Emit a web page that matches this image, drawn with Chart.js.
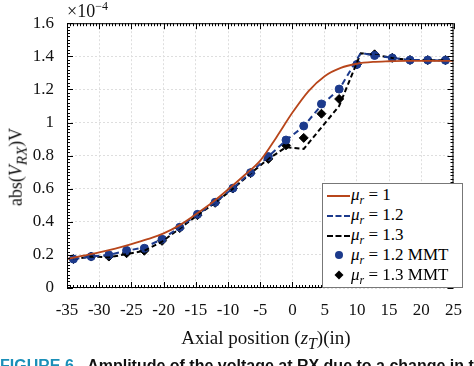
<!DOCTYPE html>
<html>
<head>
<meta charset="utf-8">
<script src="https://cdn.jsdelivr.net/npm/chart.js@4/dist/chart.umd.min.js"></script>
<style>
  body { margin: 0; background: #fff; }
  #wrap { position: relative; width: 474px; height: 366px; overflow: hidden; font-family: "Liberation Serif", "DejaVu Serif", serif; }
  #chart { position: absolute; left: 0; top: 0; }
  .lbl { position: absolute; color: #111; white-space: nowrap; }
  #ytitle { left: 18px; top: 167px; font-size: 18px; transform: translate(-50%, -50%) rotate(-90deg); }
  #xtitle { left: 266px; top: 340px; font-size: 19px; transform: translate(-50%, -50%); }
  #scale { left: 67px; top: -1px; font-size: 18px; }
  #scale sup { font-size: 12px; }
  #legend { position: absolute; left: 322px; top: 183px; width: 139px; height: 103px; border: 1px solid #777; background: #fff; font-size: 17px; }
  #legend .row { position: absolute; left: 0; height: 20px; width: 139px; }
  #legend .sample { position: absolute; left: 4px; top: 10px; width: 23px; height: 0; }
  #legend .txt { position: absolute; left: 28px; top: 0; line-height: 20px; }
  #legend .mk { position: absolute; left: 12px; top: 6px; width: 8px; height: 8px; }
  #caption { left: 0; top: 357px; font-size: 16px; font-family: "Liberation Sans", sans-serif; font-weight: bold; }
  #caption span { color: #1a8fb8; }
  i sub { font-size: 70%; }
</style>
</head>
<body>
<div id="wrap">
  <canvas id="chart" width="474" height="366"></canvas>
  <div class="lbl" id="scale">×10<sup>−4</sup></div>
  <div class="lbl" id="ytitle">abs(<i>V</i><sub><i>RX</i></sub>)V</div>
  <div class="lbl" id="xtitle">Axial position (<i>z</i><sub><i>T</i></sub>)(in)</div>
  <div id="legend">
    <div class="row" style="top:1px"><div class="sample" style="border-top:2px solid #b8461b"></div><div class="txt"><i>μ<sub>r</sub></i> = 1</div></div>
    <div class="row" style="top:21px"><div class="sample" style="border-top:2px dashed #1c3a8c"></div><div class="txt"><i>μ<sub>r</sub></i> = 1.2</div></div>
    <div class="row" style="top:41px"><div class="sample" style="border-top:2px dashed #000"></div><div class="txt"><i>μ<sub>r</sub></i> = 1.3</div></div>
    <div class="row" style="top:61px"><div class="mk" style="border-radius:50%;background:#1c3a8c"></div><div class="txt"><i>μ<sub>r</sub></i> = 1.2 MMT</div></div>
    <div class="row" style="top:81px"><div class="mk" style="background:#000;transform:rotate(45deg) scale(0.8,0.8)"></div><div class="txt"><i>μ<sub>r</sub></i> = 1.3 MMT</div></div>
  </div>
  <div class="lbl" id="caption"><span>FIGURE 6</span>&nbsp;&nbsp;&nbsp;Amplitude of the voltage at RX due to a change in the permeability</div>
</div>
<script>
// values in units of 1e-4 V
const redX = [-35, -32.5, -30, -27.5, -25, -22.5, -20, -17.5, -15, -12.5, -10, -7.5, -5, -2.5, 0, 2.5, 5, 7.5, 10, 12.5, 15, 17.5, 20, 22.5, 25];
const mu1 = [0.175, 0.195, 0.215, 0.238, 0.265, 0.295, 0.33, 0.38, 0.445, 0.515, 0.595, 0.68, 0.77, 0.91, 1.06, 1.19, 1.28, 1.33, 1.355, 1.366, 1.37, 1.372, 1.372, 1.372, 1.372];

const dashX = [-34, -31.25, -28.5, -25.75, -23, -20.25, -17.5, -14.75, -12, -9.25, -6.5, -3.75, -1, 1.75, 4.5, 7.25, 10.6, 12.75, 15.5, 18.25, 21, 23.75];
const mu12 = [0.175, 0.19, 0.2, 0.225, 0.245, 0.295, 0.367, 0.445, 0.518, 0.603, 0.697, 0.794, 0.892, 0.977, 1.105, 1.2, 1.42, 1.405, 1.39, 1.378, 1.376, 1.375];
const mu13 = [0.175, 0.19, 0.185, 0.205, 0.225, 0.28, 0.36, 0.44, 0.515, 0.6, 0.692, 0.78, 0.85, 0.84, 0.97, 1.1, 1.418, 1.41, 1.39, 1.378, 1.376, 1.376];

const mmtX = [-34, -31.25, -28.5, -25.75, -23, -20.25, -17.5, -14.75, -12, -9.25, -6.5, -3.75, -1, 1.75, 4.5, 7.25, 10, 12.75, 15.5, 18.25, 21, 23.75];
const mmt12 = [0.175, 0.19, 0.2, 0.227, 0.24, 0.295, 0.367, 0.445, 0.518, 0.603, 0.697, 0.794, 0.894, 0.979, 1.112, 1.202, 1.351, 1.405, 1.39, 1.377, 1.377, 1.376];
const mmt13 = [0.175, 0.19, 0.19, 0.21, 0.225, 0.285, 0.362, 0.44, 0.515, 0.601, 0.694, 0.78, 0.862, 0.907, 1.053, 1.142, 1.351, 1.412, 1.391, 1.378, 1.377, 1.377];

const pts = (xs, ys) => xs.map((x, i) => ({ x: x, y: ys[i] }));

// frame + inward minor/major ticks on all four sides
const frameTicks = {
    id: 'frameTicks',
    afterDraw(chart) {
        const ctx = chart.ctx;
        const { left, right, top, bottom } = chart.chartArea;
        const xs = chart.scales.x, ys = chart.scales.y;
        ctx.save();
        ctx.strokeStyle = '#000';
        ctx.lineWidth = 1;
        ctx.strokeRect(left + 0.5, top + 0.5, right - left - 1, bottom - top - 1);
        ctx.beginPath();
        for (let i = 0; i <= 120; i++) {
            const px = Math.round(xs.getPixelForValue(-35 + i * 0.5)) + 0.5;
            const len = i % 10 === 0 ? 6 : 3;
            ctx.moveTo(px, bottom); ctx.lineTo(px, bottom - len);
            ctx.moveTo(px, top); ctx.lineTo(px, top + len);
        }
        for (let i = 0; i <= 80; i++) {
            const py = Math.round(ys.getPixelForValue(i * 0.02)) + 0.5;
            const len = i % 10 === 0 ? 6 : 3;
            ctx.moveTo(left, py); ctx.lineTo(left + len, py);
            ctx.moveTo(right, py); ctx.lineTo(right - len, py);
        }
        ctx.stroke();
        ctx.restore();
    }
};

new Chart(document.getElementById('chart'), {
    type: 'scatter',
    data: {
        datasets: [
            {
                label: 'mu_r = 1',
                data: pts(redX, mu1),
                showLine: true,
                borderColor: '#b8461b',
                borderWidth: 1.8,
                pointRadius: 0,
                cubicInterpolationMode: 'monotone'
            },
            {
                label: 'mu_r = 1.2',
                data: pts(dashX, mu12),
                showLine: true,
                borderColor: '#1c3a8c',
                borderWidth: 2,
                borderDash: [6, 4],
                pointRadius: 0
            },
            {
                label: 'mu_r = 1.3',
                data: pts(dashX, mu13),
                showLine: true,
                borderColor: '#000',
                borderWidth: 2,
                borderDash: [5, 3],
                pointRadius: 0
            },
            {
                label: 'mu_r = 1.2 MMT',
                data: pts(mmtX, mmt12),
                showLine: false,
                pointStyle: 'circle',
                pointRadius: 4,
                backgroundColor: '#1c3a8c',
                borderColor: '#1c3a8c'
            },
            {
                label: 'mu_r = 1.3 MMT',
                data: pts(mmtX, mmt13),
                showLine: false,
                pointStyle: 'rectRot',
                pointRadius: 4.5,
                backgroundColor: '#000',
                borderColor: '#000'
            }
        ]
    },
    options: {
        responsive: false,
        animation: false,
        layout: { padding: { left: 0, right: 8, top: 20, bottom: 0 } },
        plugins: { legend: { display: false }, tooltip: { enabled: false } },
        scales: {
            x: {
                type: 'linear',
                min: -35,
                max: 25,
                afterFit: s => { s.height = 78; },
                ticks: { stepSize: 5, padding: 12, color: '#111', font: { family: 'Liberation Serif', size: 17 } },
                grid: { color: '#dedede', drawTicks: false },
                border: { display: false, dash: [2, 2] }
            },
            y: {
                type: 'linear',
                min: 0,
                max: 1.6,
                afterFit: s => { s.width = 67; },
                ticks: {
                    stepSize: 0.2,
                    padding: 13,
                    color: '#111',
                    font: { family: 'Liberation Serif', size: 17 },
                    callback: v => String(Number(v.toFixed(1)))
                },
                grid: { color: '#dedede', drawTicks: false },
                border: { display: false, dash: [2, 2] }
            }
        }
    },
    plugins: [frameTicks]
});
</script>
</body>
</html>
